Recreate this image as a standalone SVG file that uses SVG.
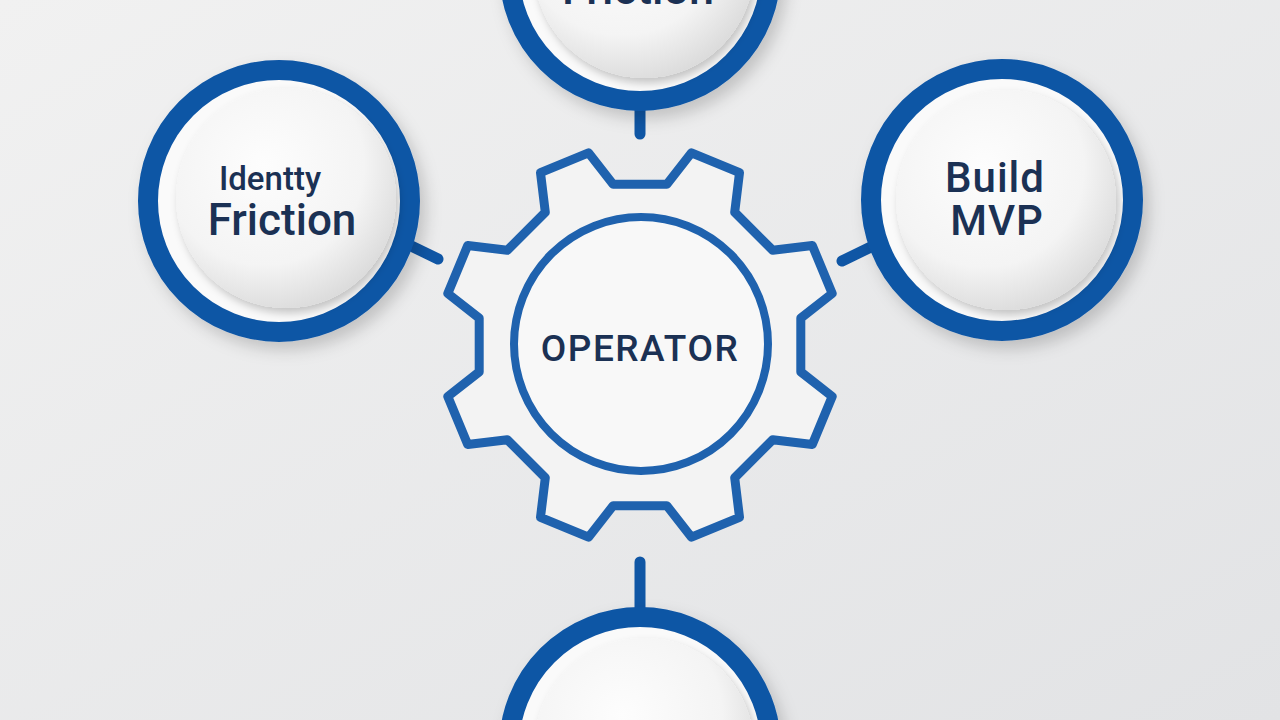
<svg xmlns="http://www.w3.org/2000/svg" width="1280" height="720" viewBox="0 0 1280 720">
<defs>
<linearGradient id="bg" x1="0" y1="0" x2="1" y2="1">
<stop offset="0" stop-color="#f1f1f1"/>
<stop offset="1" stop-color="#e2e3e5"/>
</linearGradient>
<radialGradient id="btn" cx="0.4" cy="0.35" r="0.7">
<stop offset="0" stop-color="#fdfdfd"/>
<stop offset="0.65" stop-color="#f4f4f4"/>
<stop offset="1" stop-color="#d9d9d9"/>
</radialGradient>
<filter id="sh" x="-20%" y="-20%" width="150%" height="150%">
<feDropShadow dx="6" dy="8" stdDeviation="8" flood-color="#000" flood-opacity="0.18"/>
</filter>
<filter id="bsh" x="-20%" y="-20%" width="150%" height="150%">
<feDropShadow dx="3" dy="5" stdDeviation="4" flood-color="#000" flood-opacity="0.22"/>
</filter>
<style>
.ring{fill:#fafafa;stroke:#0f56a5;stroke-width:20}
.btn{fill:url(#btn)}
.lbl{font-family:Roboto,"Liberation Sans",sans-serif;font-weight:500;fill:#1b3154;text-anchor:middle}
.con{stroke:#0f56a5;stroke-width:11;stroke-linecap:round;fill:none}
.gear{fill:#f3f3f3;stroke:#1f62ae;stroke-width:9;stroke-linejoin:round}
</style>
</defs>
<rect width="1280" height="720" fill="url(#bg)"/>
<g id="connectors">
<line class="con" x1="640" y1="105" x2="640" y2="134"/>
<line class="con" x1="640" y1="562" x2="640" y2="610"/>
<line class="con" x1="405" y1="243" x2="438" y2="259"/>
<line class="con" x1="842" y1="261" x2="875" y2="245"/>
</g>
<g id="node-operator">
<path class="gear" d="M800.8,318.1 L800.8,371.9 L832.2,396.5 L812.3,444.5 L772.7,439.7 L734.7,477.7 L739.5,517.3 L691.5,537.2 L666.9,505.8 L613.1,505.8 L588.5,537.2 L540.5,517.3 L545.3,477.7 L507.3,439.7 L467.7,444.5 L447.8,396.5 L479.2,371.9 L479.2,318.1 L447.8,293.5 L467.7,245.5 L507.3,250.3 L545.3,212.3 L540.5,172.7 L588.5,152.8 L613.1,184.2 L666.9,184.2 L691.5,152.8 L739.5,172.7 L734.7,212.3 L772.7,250.3 L812.3,245.5 L832.2,293.5 Z"/>
<circle cx="641" cy="344" r="127" fill="#f8f8f8" stroke="#1f62ae" stroke-width="8"/>
<text class="lbl" x="640" y="361" font-size="37" letter-spacing="1.5">OPERATOR</text>
</g>
<g id="node-top">
<circle class="ring" cx="640" cy="-30" r="131" filter="url(#sh)"/>
<circle class="btn" cx="644" cy="-32" r="110" filter="url(#bsh)"/>
<text class="lbl" x="638" y="4" font-size="45">Friction</text>
</g>
<g id="node-left">
<circle class="ring" cx="279" cy="201" r="131" filter="url(#sh)"/>
<circle class="btn" cx="286" cy="198" r="110" filter="url(#bsh)"/>
<text class="lbl" x="270" y="190" font-size="33">Identty</text>
<text class="lbl" x="282" y="235" font-size="44">Friction</text>
</g>
<g id="node-right">
<circle class="ring" cx="1002" cy="200" r="131" filter="url(#sh)"/>
<circle class="btn" cx="1006" cy="200" r="110" filter="url(#bsh)"/>
<text class="lbl" x="995" y="192" font-size="42" letter-spacing="1">Build</text>
<text class="lbl" x="997" y="235" font-size="42" letter-spacing="1">MVP</text>
</g>
<g id="node-bottom">
<circle class="ring" cx="640" cy="748" r="131" filter="url(#sh)"/>
<circle class="btn" cx="644" cy="748" r="110" filter="url(#bsh)"/>
</g>
</svg>
